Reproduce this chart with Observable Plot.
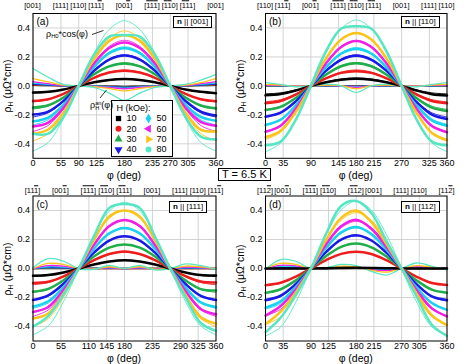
<!DOCTYPE html>
<html><head><meta charset="utf-8">
<script src="https://cdn.jsdelivr.net/npm/d3@7"></script>
<script src="https://cdn.jsdelivr.net/npm/@observablehq/plot@0.6"></script>
<style>
body{margin:0;background:#fff;}
#fig{position:relative;width:474px;height:364px;overflow:hidden;font-family:"Liberation Sans",Arial,sans-serif;color:#000;background:#fff;}
.wrap{position:absolute;}
.top-lab{position:absolute;font-size:7.5px;white-space:nowrap;transform:translate(-50%,-50%);line-height:1;}
.ov{text-decoration:overline;}
.ylab{position:absolute;font-size:10.5px;white-space:nowrap;transform:translate(-50%,-50%) rotate(-90deg);line-height:1;}
.xlab{position:absolute;font-size:10.5px;white-space:nowrap;transform:translate(-50%,-50%);line-height:1;}
.nbox{position:absolute;font-size:8px;border:1px solid #000;background:#fff;padding:1px 3px;white-space:nowrap;line-height:1;}
.plab{position:absolute;font-size:10px;transform:translate(0,-50%);line-height:1;}
.ann{position:absolute;font-size:9px;white-space:nowrap;transform:translate(0,-50%);line-height:1;}
.sub{font-size:0.65em;vertical-align:-0.3em;}
.ss{display:inline-block;vertical-align:middle;font-size:0.62em;line-height:0.95;text-align:left;}
.tbox{position:absolute;font-size:11px;border:1px solid #000;background:#fff;padding:0 3px;white-space:nowrap;line-height:11px;}
</style></head>
<body><div id="fig"></div>
<script>
const PHI = [0,30,60,90,120,150,180,210,240,270,300,330,360];
const FIELDS = [10,20,30,40,50,60,70,80];
const COLORS = ["#000000","#ee1c1c","#1fae4a","#1a1ae6","#19d2f0","#f01ee6","#fcc419","#57e6c4"];
const Y_TICKS = [-0.4,-0.2,0,0.2,0.4];

// ---- panel (a) n || [001]
const aTicks = [0,55,90,125,180,235,270,305,360];
const aTop = ["[001]","[111]","[110]","[11!1]","[00!1]","[!1!1!1]","[!1!10]","[!1!11]","[001]"];
const aFit = [
 [-.05,-.043,-.025,0,.025,.043,.05,.043,.025,0,-.025,-.043,-.05],
 [-.11,-.095,-.055,0,.055,.095,.11,.095,.055,0,-.055,-.095,-.11],
 [-.16,-.139,-.08,0,.08,.139,.16,.139,.08,0,-.08,-.139,-.16],
 [-.215,-.186,-.108,0,.108,.186,.215,.186,.108,0,-.108,-.186,-.215],
 [-.27,-.234,-.135,0,.135,.234,.27,.234,.135,0,-.135,-.234,-.27],
 [-.315,-.273,-.158,0,.158,.273,.315,.273,.158,0,-.158,-.273,-.315],
 [-.38,-.329,-.19,0,.19,.329,.38,.329,.19,0,-.19,-.329,-.38],
 [-.45,-.39,-.225,0,.225,.39,.45,.39,.225,0,-.225,-.39,-.45]
];
const aData = [
 [-.046,-.041,-.025,0,.025,.041,.047,.041,.025,0,-.025,-.041,-.05],
 [-.104,-.092,-.055,0,.055,.092,.105,.092,.055,0,-.055,-.092,-.106],
 [-.15,-.134,-.08,0,.08,.135,.155,.135,.08,0,-.08,-.135,-.155],
 [-.198,-.177,-.104,0,.105,.182,.21,.182,.105,0,-.104,-.177,-.205],
 [-.245,-.219,-.131,0,.132,.226,.26,.226,.132,0,-.131,-.214,-.24],
 [-.28,-.253,-.152,0,.155,.262,.30,.262,.155,0,-.152,-.248,-.275],
 [-.33,-.301,-.185,0,.185,.311,.35,.311,.185,0,-.185,-.302,-.315],
 [-.33,-.33,-.215,0,.215,.34,.35,.34,.215,0,-.215,-.35,-.37]
];
const aAn = [
 [.004,.002,0,0,0,-.002,-.003,-.002,0,0,0,.002,.004],
 [.006,.003,0,0,0,-.003,-.005,-.003,0,0,0,.003,.006],
 [.01,.005,0,0,0,-.004,-.007,-.004,0,0,0,.004,.01],
 [.012,.006,.001,0,-.001,-.005,-.01,-.005,-.001,0,.001,.006,.012],
 [.02,.01,.002,0,-.002,-.007,-.015,-.007,-.002,0,.002,.01,.02],
 [.03,.015,.003,0,-.003,-.01,-.02,-.01,-.003,0,.003,.015,.03],
 [.05,.028,.005,0,-.005,-.018,-.035,-.018,-.005,0,.005,.022,.05],
 [.12,.06,.01,0,-.01,-.05,-.10,-.05,-.01,0,.01,.04,.08]
];

// ---- panel (b) n || [110]
const bTicks = [0,35,90,145,180,215,270,325,360];
const bTop = ["[110]","[11!1]","[00!1]","[!1!1!1]","[!1!10]","[!1!11]","[001]","[111]","[110]"];
const bFit = [
 [-.055,-.048,-.028,0,.028,.048,.055,.048,.028,0,-.028,-.048,-.055],
 [-.11,-.095,-.055,0,.055,.095,.11,.095,.055,0,-.055,-.095,-.11],
 [-.162,-.14,-.081,0,.081,.14,.162,.14,.081,0,-.081,-.14,-.162],
 [-.215,-.186,-.108,0,.108,.186,.215,.186,.108,0,-.108,-.186,-.215],
 [-.265,-.229,-.133,0,.133,.229,.265,.229,.133,0,-.133,-.229,-.265],
 [-.315,-.273,-.158,0,.158,.273,.315,.273,.158,0,-.158,-.273,-.315],
 [-.37,-.32,-.185,0,.185,.32,.37,.32,.185,0,-.185,-.32,-.37],
 [-.455,-.394,-.228,0,.228,.394,.455,.394,.228,0,-.228,-.394,-.455]
];
const bData = [
 [-.065,-.056,-.032,0,.025,.043,.05,.043,.025,0,-.032,-.057,-.066],
 [-.12,-.104,-.06,0,.052,.09,.102,.09,.052,0,-.06,-.104,-.12],
 [-.167,-.145,-.084,0,.078,.136,.157,.136,.078,0,-.086,-.15,-.173],
 [-.213,-.185,-.107,0,.104,.18,.208,.18,.104,0,-.113,-.198,-.228],
 [-.27,-.234,-.135,0,.128,.222,.255,.222,.128,0,-.137,-.238,-.275],
 [-.317,-.275,-.158,0,.155,.268,.31,.268,.155,0,-.16,-.277,-.32],
 [-.355,-.31,-.18,0,.19,.32,.365,.32,.19,0,-.188,-.325,-.375],
 [-.41,-.385,-.235,0,.24,.395,.412,.395,.24,0,-.235,-.385,-.41]
];
const bAn = [
 [0,0,0,0,0,0,-.001,0,0,0,0,0,0],
 [0,0,0,0,0,0,-.002,0,0,0,0,0,0],
 [.001,0,0,0,0,0,-.003,0,0,0,0,0,.001],
 [.002,.001,0,0,.001,0,-.004,0,.001,0,0,.001,.002],
 [.003,.002,0,0,.002,0,-.006,0,.002,0,0,.002,.003],
 [.005,.003,0,0,.003,0,-.01,0,.003,0,0,.003,.005],
 [.01,.006,-.002,0,.006,.002,-.02,.002,.006,0,-.002,.006,.01],
 [.022,.01,-.006,0,.012,.001,-.045,.001,.012,0,-.006,.01,.022]
];

// ---- panel (c) n || [111]
const cTicks = [0,55,110,145,180,235,290,325,360];
const cTop = ["[11!1]","[00!1]","[!1!1!1]","[!1!10]","[!1!11]","[001]","[111]","[110]","[11!1]"];
const cFit = [
 [-.055,-.048,-.028,0,.028,.048,.055,.048,.028,0,-.028,-.048,-.055],
 [-.112,-.097,-.056,0,.056,.097,.112,.097,.056,0,-.056,-.097,-.112],
 [-.165,-.143,-.083,0,.083,.143,.165,.143,.083,0,-.083,-.143,-.165],
 [-.22,-.191,-.11,0,.11,.191,.22,.191,.11,0,-.11,-.191,-.22],
 [-.275,-.238,-.138,0,.138,.238,.275,.238,.138,0,-.138,-.238,-.275],
 [-.33,-.286,-.165,0,.165,.286,.33,.286,.165,0,-.165,-.286,-.33],
 [-.40,-.346,-.20,0,.20,.346,.40,.346,.20,0,-.20,-.346,-.40],
 [-.457,-.396,-.229,0,.229,.396,.457,.396,.229,0,-.229,-.396,-.457]
];
const cData = [
 [-.05,-.045,-.027,0,.028,.048,.057,.048,.028,0,-.027,-.045,-.048],
 [-.10,-.092,-.055,0,.057,.10,.118,.10,.057,0,-.053,-.09,-.097],
 [-.16,-.14,-.081,0,.083,.144,.165,.144,.083,0,-.082,-.142,-.152],
 [-.217,-.185,-.105,0,.11,.193,.222,.193,.109,0,-.107,-.189,-.217],
 [-.262,-.226,-.128,0,.137,.242,.28,.242,.136,0,-.132,-.234,-.265],
 [-.30,-.266,-.149,0,.163,.293,.335,.293,.162,0,-.155,-.279,-.315],
 [-.345,-.311,-.172,0,.197,.358,.40,.358,.195,0,-.183,-.334,-.38],
 [-.40,-.328,-.179,0,.223,.418,.445,.418,.219,0,-.197,-.376,-.43]
];
const cAn = [
 [0,0,0,0,0,0,0,0,0,0,0,0,0],
 [0,.001,.001,0,0,0,0,0,0,0,0,0,0],
 [0,.003,.002,0,0,.001,0,.001,0,0,.001,.001,0],
 [0,.006,.005,0,0,.002,0,.002,-.001,0,.003,.002,0],
 [0,.012,.01,0,-.001,.004,0,.004,-.002,0,.006,.004,0],
 [0,.02,.016,0,-.002,.007,0,.007,-.003,0,.01,.007,0],
 [0,.035,.028,0,-.003,.012,0,.012,-.005,0,.017,.012,0],
 [.005,.068,.05,0,-.006,.022,0,.022,-.01,0,.032,.02,-.005]
];

// ---- panel (d) n || [112]
const dTicks = [0,35,90,125,180,215,270,305,360];
const dTop = ["[11!2]","[00!1]","[!1!1!1]","[!1!10]","[!1!12]","[001]","[111]","[110]","[11!2]"];
const dFit = [
 [0,0,0,0,0,0,0,0,0,0,0,0,0],
 [-.115,-.10,-.058,0,.058,.10,.115,.10,.058,0,-.058,-.10,-.115],
 [-.17,-.147,-.085,0,.085,.147,.17,.147,.085,0,-.085,-.147,-.17],
 [-.225,-.195,-.113,0,.113,.195,.225,.195,.113,0,-.113,-.195,-.225],
 [-.28,-.242,-.14,0,.14,.242,.28,.242,.14,0,-.14,-.242,-.28],
 [-.325,-.281,-.163,0,.163,.281,.325,.281,.163,0,-.163,-.281,-.325],
 [-.385,-.333,-.193,0,.193,.333,.385,.333,.193,0,-.193,-.333,-.385],
 [-.465,-.403,-.233,0,.233,.403,.465,.403,.233,0,-.233,-.403,-.465]
];
const dData = [
 [0,0,0,0,.002,.004,.005,.004,.002,0,0,0,0],
 [-.115,-.098,-.056,0,.058,.101,.116,.10,.057,0,-.057,-.10,-.113],
 [-.168,-.143,-.082,0,.085,.149,.172,.146,.083,0,-.083,-.146,-.167],
 [-.217,-.187,-.107,0,.113,.199,.229,.193,.108,0,-.109,-.193,-.218],
 [-.27,-.227,-.128,0,.141,.249,.286,.237,.13,0,-.132,-.238,-.285],
 [-.325,-.259,-.145,0,.165,.291,.336,.274,.148,0,-.151,-.275,-.33],
 [-.384,-.298,-.165,0,.196,.349,.40,.321,.168,0,-.173,-.323,-.39],
 [-.44,-.34,-.183,0,.238,.431,.465,.383,.188,0,-.195,-.388,-.465]
];
const dAn = [
 [0,0,0,0,0,0,0,0,0,0,0,0,0],
 [0,.002,.002,0,0,.001,.001,0,-.001,0,.001,0,0],
 [0,.004,.003,0,0,.002,.002,-.001,-.002,0,.002,.001,0],
 [0,.008,.006,0,0,.004,.004,-.002,-.005,0,.004,.002,0],
 [0,.015,.012,0,.001,.007,.006,-.005,-.01,0,.008,.004,-.002],
 [0,.022,.018,0,.002,.01,.008,-.007,-.015,0,.012,.006,-.003],
 [0,.035,.028,0,.003,.016,.012,-.012,-.025,0,.02,.01,-.005],
 [-.005,.062,.05,0,.005,.028,.02,-.02,-.045,0,.038,.015,-.01]
];

// ---------- drawing ----------
const fig = document.getElementById("fig");
const FONT = '"Liberation Sans", Arial, sans-serif';

const s3 = Math.sqrt(3);
function tri(rot) {
  return {draw(c, size) {
    const y = -Math.sqrt(size / (s3 * 3));
    const pts = [[0, 2 * y], [-s3 * y, -y], [s3 * y, -y]].map(([px, py]) => rot(px, py));
    c.moveTo(pts[0][0], pts[0][1]); c.lineTo(pts[1][0], pts[1][1]); c.lineTo(pts[2][0], pts[2][1]); c.closePath();
  }};
}
const SYMBOLS = ["square", "circle", "triangle", tri((x, y) => [x, -y]), "diamond", tri((x, y) => [y, x]), tri((x, y) => [-y, x]), "circle"];

function tidy(arrs) {
  return arrs.flatMap((vals, i) => vals.map((v, j) => ({phi: PHI[j], v, H: FIELDS[i]})));
}
function overline(s) { return s.replace(/!(\d)/g, '<span class="ov">$1</span>'); }
function addDiv(cls, html, left, top, extra) {
  const d = document.createElement("div");
  d.className = cls; d.innerHTML = html;
  d.style.left = left + "px"; d.style.top = top + "px";
  if (extra) Object.assign(d.style, extra);
  fig.appendChild(d);
  return d;
}

function panel(cfg) {
  const line = (arrs, w) => Plot.line(tidy(arrs), {x: "phi", y: "v", z: "H", stroke: "H", strokeWidth: w, curve: "catmull-rom"});
  const p = Plot.plot({
    width: 237, height: 182,
    marginLeft: cfg.ml, marginRight: cfg.mr, marginTop: cfg.mt, marginBottom: cfg.mb,
    x: {domain: [0, 360]},
    y: {domain: [-0.5, 0.5]},
    color: {type: "ordinal", domain: FIELDS, range: COLORS},
    style: {fontFamily: FONT, fontSize: "9px", background: "transparent", overflow: "visible", color: "#000"},
    marks: [
      Plot.gridX(cfg.ticks, {stroke: "#c8c8c8", strokeOpacity: 1, strokeWidth: 0.8}),
      Plot.gridY(Y_TICKS, {stroke: "#c8c8c8", strokeOpacity: 1, strokeWidth: 0.8}),
      line(cfg.fit, 0.9),
      line(cfg.an, 1.3),
      line(cfg.data, 2.5),
      Plot.frame({stroke: "#000", strokeWidth: 1}),
      Plot.axisX(cfg.ticks, {anchor: "bottom", tickSize: 0, tickPadding: 1.5, label: null, tickFormat: d => String(d)}),
      Plot.axisY(Y_TICKS, {anchor: "left", tickSize: 0, tickPadding: 3, label: null, tickFormat: d => d.toFixed(1)})
    ]
  });
  const w = document.createElement("div");
  w.className = "wrap";
  w.style.left = cfg.left + "px"; w.style.top = cfg.top + "px"; w.style.width = "237px"; w.style.height = "182px";
  w.appendChild(p);
  fig.appendChild(w);
  const xs = p.scale("x");
  cfg.ticks.forEach((t, i) => addDiv("top-lab", overline(cfg.topLabels[i]), cfg.left + xs.apply(t), cfg.topY));
  const fx = cfg.left + (cfg.ml + 237 - cfg.mr) / 2;
  addDiv("xlab", "&phi; (deg)", fx, cfg.xlabY);
  addDiv("ylab", "&rho;<span class=\"sub\">H</span> (&mu;&Omega;*cm)", cfg.ylabX, cfg.ylabY);
  addDiv("plab", cfg.letter, cfg.left + cfg.ml + 4, cfg.top + cfg.mt + 9);
  addDiv("nbox", "<b>n</b> || [" + cfg.n + "]", cfg.nx, cfg.ny);
  return p;
}

panel({left: 0, top: 0, ml: 32.5, mr: 21.5, mt: 13, mb: 24.2, ticks: aTicks, topLabels: aTop,
  fit: aFit, data: aData, an: aAn, topY: 6, xlabY: 175, ylabX: 7.5, ylabY: 86, letter: "(a)", n: "001", nx: 173, ny: 16});
panel({left: 237, top: 0, ml: 28, mr: 27.5, mt: 13, mb: 24.2, ticks: bTicks, topLabels: bTop,
  fit: bFit, data: bData, an: bAn, topY: 6, xlabY: 175, ylabX: 241, ylabY: 86, letter: "(b)", n: "110", nx: 401, ny: 16});
panel({left: 0, top: 182, ml: 32.5, mr: 21.5, mt: 13.5, mb: 23.5, ticks: cTicks, topLabels: cTop,
  fit: cFit, data: cData, an: cAn, topY: 190.5, xlabY: 357.5, ylabX: 7.5, ylabY: 269, letter: "(c)", n: "111", nx: 169, ny: 201});
panel({left: 237, top: 182, ml: 28, mr: 27.5, mt: 13.5, mb: 23.5, ticks: dTicks, topLabels: dTop,
  fit: dFit, data: dData, an: dAn, topY: 190.5, xlabY: 357.5, ylabX: 241, ylabY: 271, letter: "(d)", n: "112", nx: 401, ny: 201});

// legend (panel a)
const legRows = FIELDS.map((H, i) => ({H, col: Math.floor(i / 4), row: i % 4}));
const leg = Plot.plot({
  width: 60, height: 55, marginLeft: 6, marginRight: 24, marginTop: 17, marginBottom: 7,
  x: {domain: [0, 1], axis: null},
  y: {domain: [0, 3], reverse: true, axis: null},
  color: {type: "ordinal", domain: FIELDS, range: COLORS},
  symbol: {domain: FIELDS, range: SYMBOLS},
  style: {fontFamily: FONT, fontSize: "9px", background: "#fff", border: "1px solid #000", overflow: "visible", color: "#000"},
  marks: [
    Plot.text(["H (kOe):"], {text: d => d, frameAnchor: "top-left", dx: -2, dy: -14, textAnchor: "start", lineAnchor: "top"}),
    Plot.dot(legRows, {x: "col", y: "row", symbol: "H", fill: "H", stroke: "none", r: 3}),
    Plot.text(legRows, {x: "col", y: "row", text: d => String(d.H), dx: 8, textAnchor: "start"})
  ]
});
const lw = document.createElement("div");
lw.className = "wrap"; lw.style.left = "111px"; lw.style.top = "100px";
lw.appendChild(leg); fig.appendChild(lw);

// annotations (panel a)
addDiv("ann", "&rho;<span class=\"sub\">H0</span>*cos(&phi;)", 46, 35);
addDiv("ann", "&rho;<span class=\"ss\">an<br>H</span>(&phi;)", 90, 106);
const ns = "http://www.w3.org/2000/svg";
const ov = document.createElementNS(ns, "svg");
ov.setAttribute("width", 474); ov.setAttribute("height", 364);
ov.style.position = "absolute"; ov.style.left = "0"; ov.style.top = "0"; ov.style.pointerEvents = "none";
[[92, 34.5, 103.5, 30.5], [100, 98, 106.5, 90]].forEach(([x1, y1, x2, y2]) => {
  const l = document.createElementNS(ns, "line");
  l.setAttribute("x1", x1); l.setAttribute("y1", y1); l.setAttribute("x2", x2); l.setAttribute("y2", y2);
  l.setAttribute("stroke", "#000"); l.setAttribute("stroke-width", "0.8");
  ov.appendChild(l);
});
fig.appendChild(ov);

// temperature box
addDiv("tbox", "T = 6.5 K", 218, 167.5);
</script></body></html>
